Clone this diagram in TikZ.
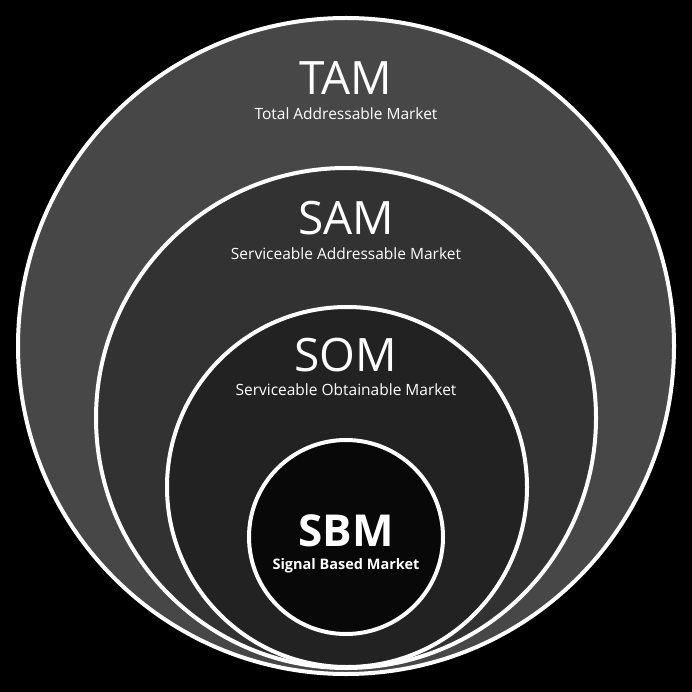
\documentclass[tikz,border=0pt]{standalone}
\usepackage{fontspec}
\setmainfont{Open Sans}
\begin{document}
\begin{tikzpicture}[x=1pt,y=-1pt,
  ring/.style={draw=white,line width=4pt},
  big/.style={text=white,font=\fontsize{46}{46}\selectfont,inner sep=0pt},
  small/.style={text=white,font=\fontsize{15.5}{15.5}\selectfont,inner sep=0pt}]
\fill[black] (0,0) rectangle (692,692);
\useasboundingbox (0,0) rectangle (692,692);
\draw[ring,fill={rgb,255:red,71;green,71;blue,71}] (346,346) circle (328);
\draw[ring,fill={rgb,255:red,51;green,50;blue,50}] (346,418) circle (250);
\draw[ring,fill={rgb,255:red,34;green,34;blue,34}] (347,487) circle (180);
\draw[ring,fill={rgb,255:red,8;green,8;blue,8}] (346,537) circle (97);
\node[big] (tam) at (346,78) {TAM};
\node[small] (tams) at (346,114) {Total Addressable Market};
\node[big] (sam) at (346,218) {SAM};
\node[small] (sams) at (346,254) {Serviceable Addressable Market};
\node[big] (som) at (346,355) {SOM};
\node[small] (soms) at (346,390) {Serviceable Obtainable Market};
\node[big,font=\fontsize{44}{44}\selectfont\bfseries] (sbm) at (346,531) {SBM};
\node[small,font=\fontsize{14.5}{14.5}\selectfont\bfseries] (sbms) at (346,566) {Signal Based Market};
\end{tikzpicture}
\end{document}
